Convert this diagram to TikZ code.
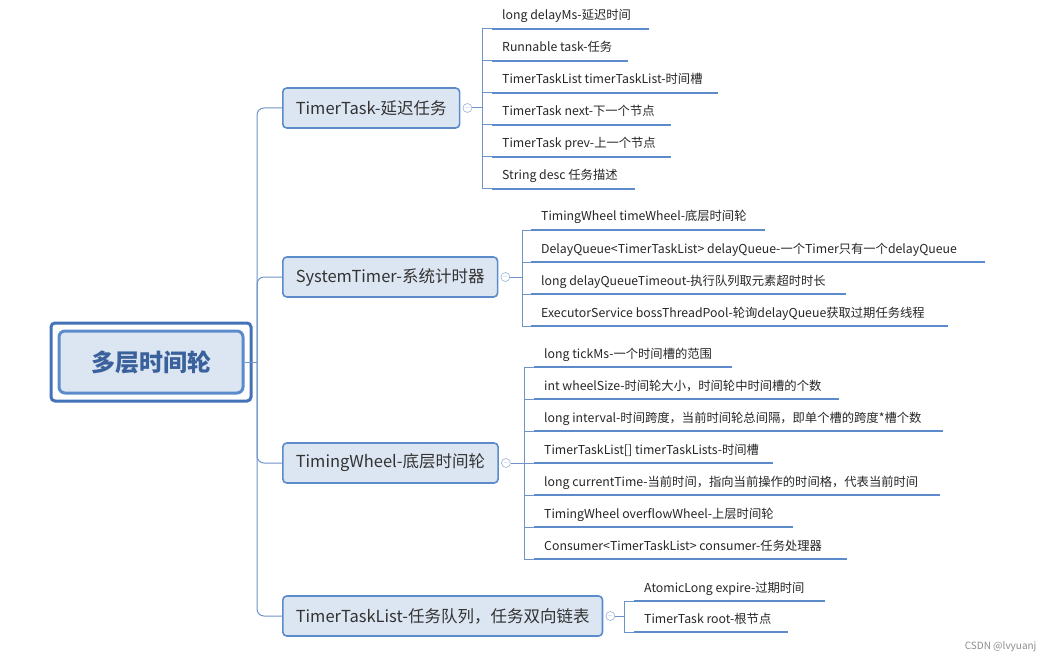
\documentclass[tikz,border=0pt]{standalone}
\usepackage{fontspec}
\setmainfont{Noto Sans CJK SC}
\begin{document}
\begin{tikzpicture}[x=1pt,y=-1pt,
  line/.style={draw=lineblue,line width=1pt},
  uline/.style={draw=ublue,line width=2.6pt},
  leaf/.style={anchor=base west,inner sep=0pt,font=\fontsize{12.3}{14}\selectfont,text=black!85},
  branch/.style={draw=ublue,line width=1.6pt,fill=boxfill,rounded corners=4pt,minimum height=40pt,inner xsep=13pt,font=\fontsize{16.5}{18}\selectfont,text=black!80,anchor=west},
  coll/.style={circle,draw=lineblue!70,line width=0.6pt,fill=white,minimum size=9pt,inner sep=0pt,font=\fontsize{7}{7}\selectfont,text=lineblue!70}]
\definecolor{ublue}{HTML}{5B8BCB}
\definecolor{lineblue}{HTML}{6E93C8}
\definecolor{boxfill}{HTML}{DCE6F2}
\definecolor{rootblue}{HTML}{4472B8}
\useasboundingbox (0,0) rectangle (1049,663);
% root
\draw[rootblue,line width=3pt,rounded corners=4pt] (51,323) rectangle (251,401);
\node[draw=ublue,line width=3pt,fill=boxfill,rounded corners=6pt,minimum width=184pt,minimum height=62pt,font=\fontsize{24}{26}\selectfont\bfseries,text=rootblue!85!black] (root) at (151,362) {多层时间轮};
% branches
\node[branch] (b1) at (282,108) {TimerTask-延迟任务};
\node[branch] (b2) at (282,277) {SystemTimer-系统计时器};
\node[branch] (b3) at (282,463) {TimingWheel-底层时间轮};
\node[branch] (b4) at (282,616) {TimerTaskList-任务队列，任务双向链表};
\coordinate (trunk) at (257,362);
\draw[line] (root.east) -- (trunk);
\foreach \b in {b1,b2,b3,b4}{
  \draw[line,rounded corners=7pt] (trunk) |- (\b.west);
}
% collapse markers and leaf groups
\newcommand{\leafgroup}[6]{% #1 box, #2 vline x, #3 first y, #4 last y, #5 name
  \node[coll,right=2pt of #1.east] (#5c) {$-$};
  \draw[line] (#5c.east) -- (#1.east -| #2,0);
  \draw[line] (#2,#3) -- (#2,#4);
}
\usetikzlibrary{positioning}
\newcommand{\leaf}[6]{% #1 name, #2 vline x, #3 start x, #4 end x, #5 y, #6 text
  \coordinate (#1s) at (#3,#5);
  \coordinate (#1e) at (#4,#5);
  \draw[line] (#2,#5) -- (#1s);
  \draw[uline] (#1s) -- (#1e);
  \node[leaf] (#1) at ([xshift=10pt,yshift=9pt]#1s) {#6};
}
\node[coll] (b1c) at ([xshift=7pt]b1.east) {$-$};
\node[coll] (b2c) at ([xshift=7pt]b2.east) {$-$};
\node[coll] (b3c) at ([xshift=7pt]b3.east) {$-$};
\node[coll] (b4c) at ([xshift=7pt]b4.east) {$-$};
\coordinate (v1) at (482,108); \coordinate (v2) at (522,277);
\coordinate (v3) at (524,463); \coordinate (v4) at (624,616);
\draw[line] (b1c) -- (v1); \draw[line] (b2c) -- (v2);
\draw[line] (b3c) -- (v3); \draw[line] (b4c) -- (v4);
\draw[line] (482,29) -- (482,189);
\draw[line] (522,230) -- (522,326);
\draw[line] (524,367) -- (524,559);
\draw[line] (624,601) -- (624,632);
% TimerTask leaves
\leaf{a1}{482}{492}{649}{29}{long delayMs-延迟时间}
\leaf{a2}{482}{492}{628}{61}{Runnable task-任务}
\leaf{a3}{482}{492}{718}{93}{TimerTaskList timerTaskList-时间槽}
\leaf{a4}{482}{492}{671}{125}{TimerTask next-下一个节点}
\leaf{a5}{482}{492}{671}{157}{TimerTask prev-上一个节点}
\leaf{a6}{482}{492}{635}{189}{String desc 任务描述}
% SystemTimer leaves
\leaf{s1}{522}{531}{765}{230}{TimingWheel timeWheel-底层时间轮}
\leaf{s2}{522}{531}{985}{262}{DelayQueue<TimerTaskList> delayQueue-一个Timer只有一个delayQueue}
\leaf{s3}{522}{531}{846}{294}{long delayQueueTimeout-执行队列取元素超时时长}
\leaf{s4}{522}{531}{948}{326}{ExecutorService bossThreadPool-轮询delayQueue获取过期任务线程}
% TimingWheel leaves
\leaf{t1}{524}{534}{732}{367}{long tickMs-一个时间槽的范围}
\leaf{t2}{524}{534}{839}{399}{int wheelSize-时间轮大小，时间轮中时间槽的个数}
\leaf{t3}{524}{534}{943}{431}{long interval-时间跨度，当前时间轮总间隔，即单个槽的跨度*槽个数}
\leaf{t4}{524}{534}{773}{463}{TimerTaskList[] timerTaskLists-时间槽}
\leaf{t5}{524}{534}{940}{495}{long currentTime-当前时间，指向当前操作的时间格，代表当前时间}
\leaf{t6}{524}{534}{793}{527}{TimingWheel overflowWheel-上层时间轮}
\leaf{t7}{524}{534}{847}{559}{Consumer<TimerTaskList> consumer-任务处理器}
% TimerTaskList leaves
\leaf{l1}{624}{634}{825}{601}{AtomicLong expire-过期时间}
\leaf{l2}{624}{634}{788}{632}{TimerTask root-根节点}
\node[anchor=east,font=\fontsize{10}{12}\selectfont,text=black!45] (wm) at (1040,647) {CSDN @lvyuanj};
\end{tikzpicture}
\end{document}
